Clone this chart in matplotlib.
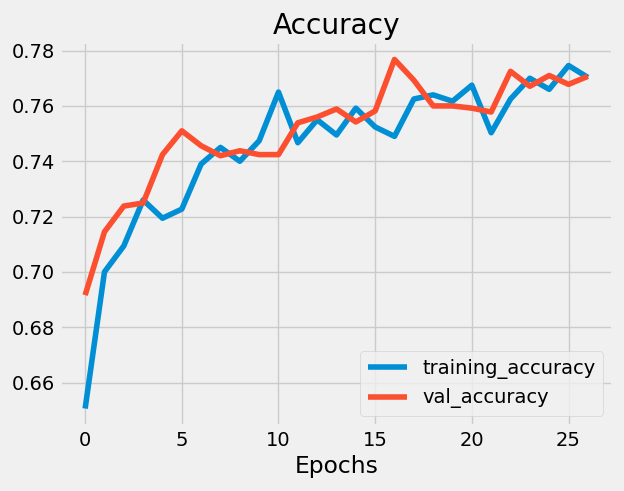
import matplotlib
matplotlib.use("Agg")
import matplotlib.pyplot as plt

epochs = list(range(27))
training_accuracy = [0.6506, 0.7000, 0.7094, 0.7260, 0.7194, 0.7227, 0.7390, 0.7450, 0.7400,
                     0.7474, 0.7650, 0.7467, 0.7550, 0.7495, 0.7592, 0.7524, 0.7490, 0.7625,
                     0.7640, 0.7617, 0.7675, 0.7503, 0.7625, 0.7700, 0.7660, 0.7746, 0.7703]
val_accuracy = [0.6916, 0.7145, 0.7238, 0.7249, 0.7424, 0.7510, 0.7456, 0.7420, 0.7438,
                0.7424, 0.7424, 0.7539, 0.7560, 0.7589, 0.7542, 0.7582, 0.7768, 0.7693,
                0.7600, 0.7600, 0.7592, 0.7578, 0.7725, 0.7671, 0.7710, 0.7678, 0.7707]

plt.style.use("fivethirtyeight")
fig = plt.figure(figsize=(6.24, 4.91), dpi=100)
ax = fig.add_axes([60 / 624, (491 - 426) / 491, 553 / 624, 384 / 491])
ax.plot(epochs, training_accuracy, label="training_accuracy")
ax.plot(epochs, val_accuracy, label="val_accuracy")
ax.set_title("Accuracy")
ax.set_xlabel("Epochs")
ax.legend(loc="lower right")
fig.savefig("out.png", dpi=100)
